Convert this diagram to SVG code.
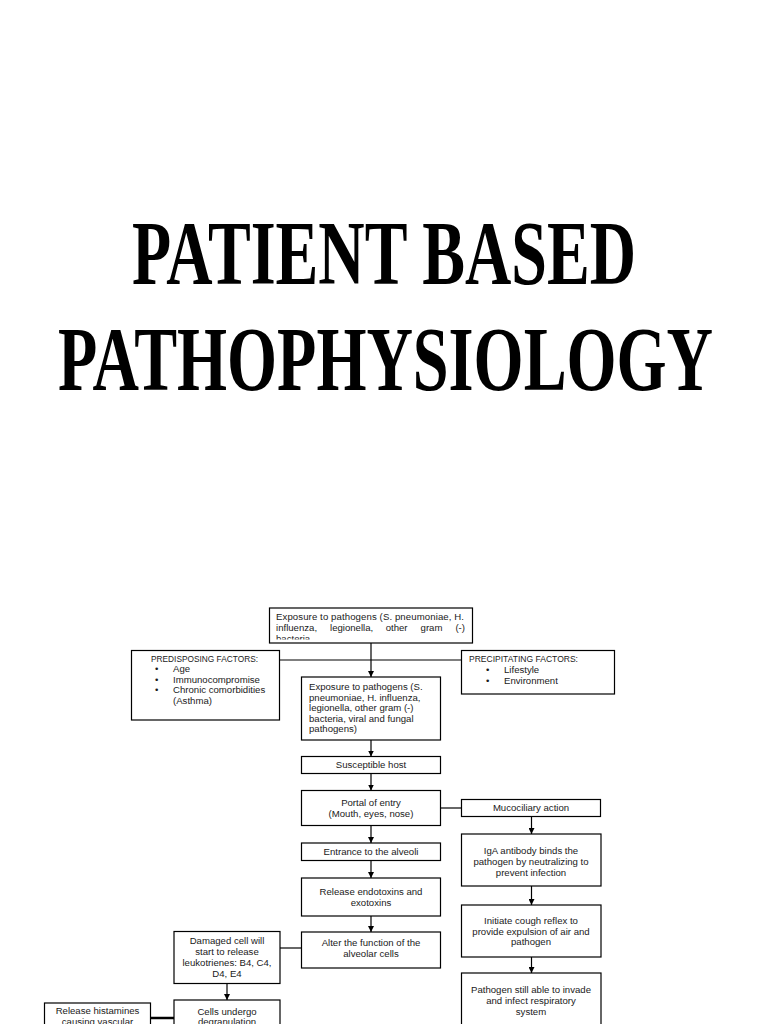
<svg xmlns="http://www.w3.org/2000/svg" width="768" height="1024" viewBox="0 0 768 1024">
<style>
.title{font-family:"Liberation Serif","Times New Roman",serif;font-weight:bold;font-size:92px;fill:#000;text-anchor:middle}
.box{fill:#fff;stroke:#000;stroke-width:1.2}
.t{font-family:"Liberation Sans",Arial,sans-serif;font-size:9.6px;fill:#1a1a1a}
.c{text-anchor:middle}
.ln{stroke:#000;stroke-width:1.2;fill:none}
</style>
<defs>
<marker id="ah" viewBox="0 0 6 6" refX="6" refY="3" markerWidth="6" markerHeight="6" markerUnits="userSpaceOnUse" orient="auto">
<path d="M0,0 L6,3 L0,6 Z" fill="#000"/>
</marker>
<clipPath id="clipTop"><rect x="270" y="608" width="203" height="31.5"/></clipPath>
</defs>
<rect width="768" height="1024" fill="#fff"/>
<g id="title">
<text class="title" transform="translate(384,284) scale(0.697,1)" x="0" y="0">PATIENT BASED</text>
<text class="title" transform="translate(385.5,390) scale(0.699,1)" x="0" y="0">PATHOPHYSIOLOGY</text>
</g>
<g id="connectors">
<line class="ln" x1="371" y1="643" x2="371" y2="677" marker-end="url(#ah)"/>
<line class="ln" x1="279.5" y1="660" x2="461.5" y2="660"/>
<line class="ln" x1="371" y1="740" x2="371" y2="756.5" marker-end="url(#ah)"/>
<line class="ln" x1="371" y1="773.5" x2="371" y2="790.5" marker-end="url(#ah)"/>
<line class="ln" x1="371" y1="825.5" x2="371" y2="843" marker-end="url(#ah)"/>
<line class="ln" x1="371" y1="860.5" x2="371" y2="878" marker-end="url(#ah)"/>
<line class="ln" x1="371" y1="916" x2="371" y2="932" marker-end="url(#ah)"/>
<line class="ln" x1="440.5" y1="808" x2="461.5" y2="808"/>
<line class="ln" x1="531.5" y1="816.5" x2="531.5" y2="834" marker-end="url(#ah)"/>
<line class="ln" x1="531.5" y1="886" x2="531.5" y2="905" marker-end="url(#ah)"/>
<line class="ln" x1="531.5" y1="957" x2="531.5" y2="973" marker-end="url(#ah)"/>
<line class="ln" x1="280" y1="948" x2="301.5" y2="948"/>
<line class="ln" x1="227" y1="983.5" x2="227" y2="1000" marker-end="url(#ah)"/>
<line class="ln" x1="150.5" y1="1018" x2="174" y2="1018" style="stroke-width:2.5"/>
</g>
<g id="exposure-top">
<rect class="box" x="269.5" y="608" width="203" height="35"/>
<text class="t" x="276" y="619.5" textLength="188" lengthAdjust="spacing">Exposure to pathogens (S. pneumoniae, H.</text>
<text class="t" y="630.5"><tspan x="276">influenza,</tspan><tspan x="330">legionella,</tspan><tspan x="385.7">other</tspan><tspan x="420.6">gram</tspan><tspan x="455.4">(-)</tspan></text>
<text class="t" x="276" y="641.5" clip-path="url(#clipTop)">bacteria</text>
</g>
<g id="predisposing">
<rect class="box" x="131.5" y="650.5" width="148" height="69.5"/>
<text class="t" x="151" y="661.5" textLength="107" lengthAdjust="spacingAndGlyphs">PREDISPOSING FACTORS:</text>
<text class="t" x="155" y="672">•</text><text class="t" x="173" y="672">Age</text>
<text class="t" x="155" y="682.5">•</text><text class="t" x="173" y="682.5">Immunocompromise</text>
<text class="t" x="155" y="693">•</text><text class="t" x="173" y="693">Chronic comorbidities</text>
<text class="t" x="173" y="703.5">(Asthma)</text>
</g>
<g id="precipitating">
<rect class="box" x="461.5" y="650.5" width="153" height="43.5"/>
<text class="t" x="469" y="662" textLength="109" lengthAdjust="spacingAndGlyphs">PRECIPITATING FACTORS:</text>
<text class="t" x="486" y="673">•</text><text class="t" x="504" y="673">Lifestyle</text>
<text class="t" x="486" y="684">•</text><text class="t" x="504" y="684">Environment</text>
</g>
<g id="exposure">
<rect class="box" x="301.5" y="677" width="139" height="63"/>
<text class="t" x="309" y="690">Exposure to pathogens (S.</text>
<text class="t" x="309" y="700.5">pneumoniae, H. influenza,</text>
<text class="t" x="309" y="711">legionella, other gram (-)</text>
<text class="t" x="309" y="721.5">bacteria, viral and fungal</text>
<text class="t" x="309" y="732">pathogens)</text>
</g>
<g id="susceptible">
<rect class="box" x="301.5" y="756.5" width="139" height="17"/>
<text class="t c" x="371" y="768">Susceptible host</text>
</g>
<g id="portal">
<rect class="box" x="301.5" y="790.5" width="139" height="35"/>
<text class="t c" x="371" y="806">Portal of entry</text>
<text class="t c" x="371" y="816.5">(Mouth, eyes, nose)</text>
</g>
<g id="entrance">
<rect class="box" x="301.5" y="843" width="139" height="17.5"/>
<text class="t c" x="371" y="855">Entrance to the alveoli</text>
</g>
<g id="endotoxins">
<rect class="box" x="301.5" y="878" width="139" height="38"/>
<text class="t c" x="371" y="894.5">Release endotoxins and</text>
<text class="t c" x="371" y="905.5">exotoxins</text>
</g>
<g id="alter">
<rect class="box" x="301.5" y="932" width="139" height="36"/>
<text class="t c" x="371" y="946">Alter the function of the</text>
<text class="t c" x="371" y="957">alveolar cells</text>
</g>
<g id="damaged">
<rect class="box" x="174" y="931.5" width="106" height="52"/>
<text class="t c" x="227" y="944">Damaged cell will</text>
<text class="t c" x="227" y="955">start to release</text>
<text class="t c" x="227" y="966">leukotrienes: B4, C4,</text>
<text class="t c" x="227" y="977">D4, E4</text>
</g>
<g id="degranulation">
<rect class="box" x="174" y="1000" width="106" height="40"/>
<text class="t c" x="227" y="1014.5">Cells undergo</text>
<text class="t c" x="227" y="1025">degranulation</text>
</g>
<g id="histamines">
<rect class="box" x="44.5" y="1003" width="106" height="40"/>
<text class="t c" x="97.5" y="1014">Release histamines</text>
<text class="t c" x="97.5" y="1024.5">causing vascular</text>
</g>
<g id="mucociliary">
<rect class="box" x="461.5" y="799.5" width="139" height="17"/>
<text class="t c" x="531" y="811">Mucociliary action</text>
</g>
<g id="iga">
<rect class="box" x="461.5" y="834" width="139.5" height="52"/>
<text class="t c" x="531" y="853.5">IgA antibody binds the</text>
<text class="t c" x="531" y="864.5">pathogen by neutralizing to</text>
<text class="t c" x="531" y="875.5">prevent infection</text>
</g>
<g id="cough">
<rect class="box" x="461.5" y="905" width="139.5" height="52"/>
<text class="t c" x="531" y="923.5">Initiate cough reflex to</text>
<text class="t c" x="531" y="934.5">provide expulsion of air and</text>
<text class="t c" x="531" y="945">pathogen</text>
</g>
<g id="pathogen-still">
<rect class="box" x="461.5" y="973" width="139.5" height="60"/>
<text class="t c" x="531" y="993">Pathogen still able to invade</text>
<text class="t c" x="531" y="1004">and infect respiratory</text>
<text class="t c" x="531" y="1015">system</text>
</g>
</svg>
